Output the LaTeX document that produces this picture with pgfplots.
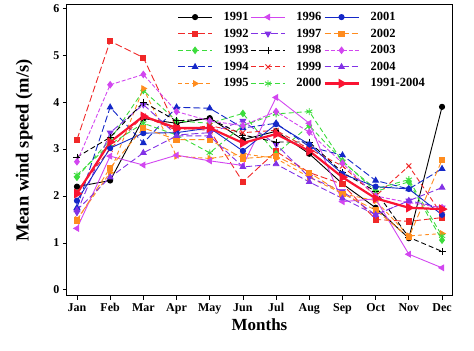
\documentclass[border=0pt]{standalone}
\usepackage{pgfplots}
\usepackage{pgfplotstable}
\pgfplotsset{compat=1.18}
\usepackage{fontspec}
\setmainfont{Liberation Serif}
\definecolor{cBlack}{RGB}{0,0,0}
\definecolor{cRed}{RGB}{240,40,40}
\definecolor{cGreen}{RGB}{60,220,60}
\definecolor{cBlue}{RGB}{20,40,200}
\definecolor{cOrange}{RGB}{255,140,30}
\definecolor{cMag}{RGB}{210,70,240}
\definecolor{cPurple}{RGB}{130,50,230}
\definecolor{cMean}{RGB}{250,20,50}
\pgfplotstableread{
m  y91  y92  y93  y94  y95  y96  y97  y98  y99  y00  y01  y02  y03  y04  mean
1  2.20 3.20 2.40 1.75 1.50 1.31 1.65 2.83 2.10 2.45 1.90 1.48 2.73 1.70 2.05
2  2.33 5.30 3.20 3.89 2.50 2.85 3.35 3.25 3.00 3.10 3.02 2.60 4.37 2.40 3.15
3  3.65 4.95 4.25 3.13 4.29 2.66 3.95 4.00 3.70 3.55 3.34 3.45 4.59 2.92 3.70
4  3.55 3.45 3.60 3.89 2.85 2.87 3.30 3.60 3.40 3.30 3.35 3.20 3.80 3.28 3.45
5  3.66 3.40 3.55 3.87 2.80 2.75 3.35 3.65 3.50 2.92 3.45 3.20 3.60 3.28 3.45
6  3.20 2.30 3.76 3.45 2.90 2.65 3.60 3.30 3.35 3.50 2.96 2.80 3.50 2.62 3.13
7  3.38 2.95 2.90 3.55 2.80 4.10 3.10 3.15 3.40 3.75 3.53 2.85 3.80 2.68 3.32
8  2.90 2.50 3.50 3.05 2.40 3.55 2.40 3.15 3.00 3.80 3.10 2.50 3.36 2.30 2.96
9  2.26 2.25 2.75 2.87 2.05 1.88 2.10 2.50 2.64 2.73 2.47 2.05 2.70 1.95 2.40
10 1.75 1.50 2.10 2.33 1.90 1.94 1.60 2.10 2.00 2.15 2.20 1.70 2.00 1.60 1.95
11 1.10 1.46 2.30 2.15 1.15 0.76 1.90 1.12 2.64 2.35 2.15 1.12 1.86 1.90 1.75
12 3.90 1.54 1.06 2.58 1.20 0.47 1.75 0.82 1.60 1.15 1.60 2.77 1.75 2.18 1.72
}\data
\begin{document}
\begin{tikzpicture}
\begin{axis}[
  scale only axis, width=385pt, height=291pt,
  xmin=0.7, xmax=12.3, ymin=-0.13, ymax=6.07,
  xtick={1,...,12},
  xticklabels={Jan,Feb,Mar,Apr,May,Jun,Jul,Aug,Sep,Oct,Nov,Dec},
  ytick={0,1,2,3,4,5,6},
  tick align=outside, tick pos=left,
  major tick length=4pt,
  axis line style={line width=1pt}, tick style={line width=0.8pt,black},
  ticklabel style={font=\bfseries\fontsize{12}{13}\selectfont},
  /pgf/number format/assume math mode=true,
  xlabel={\bfseries\fontsize{17}{18}\selectfont Months},
  ylabel={\bfseries\fontsize{18.5}{19}\selectfont Mean wind speed (m/s)},
  xlabel style={yshift=2pt},
  ylabel style={yshift=14pt},
  legend columns=5, transpose legend,
  legend style={draw=none, fill=none, at={(1,1)}, anchor=north east,
    xshift=-22pt, yshift=-3pt,
    font=\bfseries\fontsize{12.5}{13}\selectfont, row sep=2.8pt,
    cells={anchor=west},
    /tikz/every odd column/.append style={column sep=9pt}},
  legend image code/.code={\draw[mark repeat=2,mark phase=2] plot coordinates {(0pt,0pt) (17pt,0pt) (34pt,0pt)};},
  every axis plot/.append style={line width=0.9pt, mark size=2.6pt},
]
\addplot[cBlack, solid, mark=*] table[x=m,y=y91]{\data};
\addlegendentry{1991}
\addplot[cRed, dash pattern=on 7pt off 3pt, mark=square*, mark options={solid}] table[x=m,y=y92]{\data};
\addlegendentry{1992}
\addplot[cGreen, dash pattern=on 5pt off 3pt, mark=diamond*, mark options={solid}, mark size=3.2pt] table[x=m,y=y93]{\data};
\addlegendentry{1993}
\addplot[cBlue, dash pattern=on 7pt off 3pt, mark=triangle*, mark options={solid}, mark size=3.2pt] table[x=m,y=y94]{\data};
\addlegendentry{1994}
\addplot[cOrange, dash pattern=on 4pt off 3pt, mark=triangle*, mark options={solid,rotate=-90}, mark size=3.2pt] table[x=m,y=y95]{\data};
\addlegendentry{1995}
\addplot[cMag, solid, mark=triangle*, mark options={solid,rotate=90}, mark size=3.2pt] table[x=m,y=y96]{\data};
\addlegendentry{1996}
\addplot[cPurple, dash pattern=on 7pt off 3pt, mark=triangle*, mark options={solid,rotate=180}, mark size=3.2pt] table[x=m,y=y97]{\data};
\addlegendentry{1997}
\addplot[cBlack, dash pattern=on 5pt off 3pt, mark=+, mark options={solid}, mark size=3.5pt] table[x=m,y=y98]{\data};
\addlegendentry{1998}
\addplot[cRed, dash pattern=on 5pt off 3pt, mark=x, mark options={solid}, mark size=3.5pt] table[x=m,y=y99]{\data};
\addlegendentry{1999}
\addplot[cGreen, dash pattern=on 5pt off 3pt, mark=asterisk, mark options={solid}, mark size=3.5pt] table[x=m,y=y00]{\data};
\addlegendentry{2000}
\addplot[cBlue, solid, mark=*] table[x=m,y=y01]{\data};
\addlegendentry{2001}
\addplot[cOrange, dash pattern=on 6pt off 3pt, mark=square*, mark options={solid}] table[x=m,y=y02]{\data};
\addlegendentry{2002}
\addplot[cMag, dash pattern=on 4pt off 2pt, mark=diamond*, mark options={solid}, mark size=3.2pt] table[x=m,y=y03]{\data};
\addlegendentry{2003}
\addplot[cPurple, dash pattern=on 6pt off 3pt, mark=triangle*, mark options={solid}, mark size=3.2pt] table[x=m,y=y04]{\data};
\addlegendentry{2004}
\addplot[cMean, solid, line width=2.2pt, mark=triangle*, mark options={solid,rotate=-90}, mark size=3.4pt] table[x=m,y=mean]{\data};
\addlegendentry{1991-2004}
\end{axis}
\path ([xshift=-67pt,yshift=-55pt]current axis.south west) rectangle ([xshift=22pt,yshift=5pt]current axis.north east);
\end{tikzpicture}
\end{document}
